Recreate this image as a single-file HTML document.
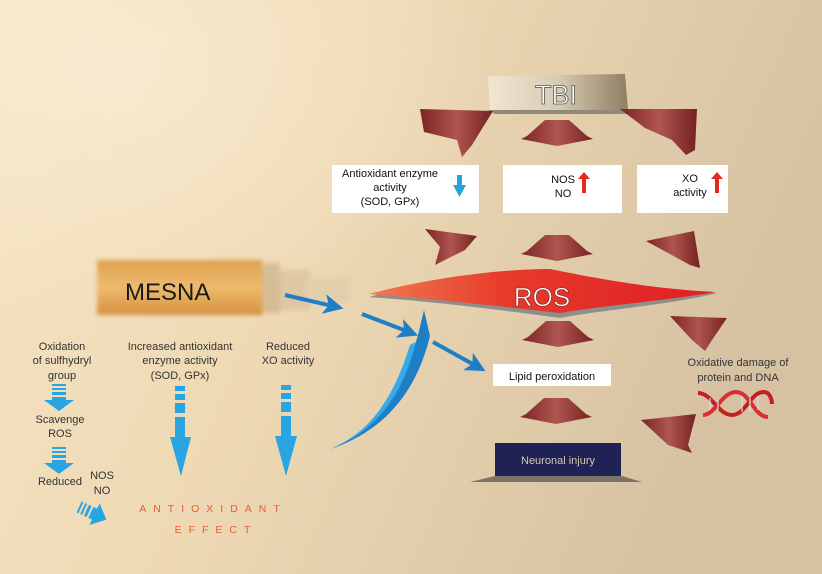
<!DOCTYPE html>
<html><head><meta charset="utf-8"><style>
html,body{margin:0;padding:0;width:822px;height:574px;overflow:hidden;background:#f3e2c2}
svg{display:block}
text{font-family:"Liberation Sans",sans-serif}
</style></head><body>
<svg width="822" height="574" viewBox="0 0 822 574" xmlns="http://www.w3.org/2000/svg">
<defs>
<linearGradient id="bg" x1="0" y1="0" x2="1" y2="0.3">
<stop offset="0" stop-color="#f6e4c4"/><stop offset="0.45" stop-color="#eed9b4"/><stop offset="1" stop-color="#d6c2a2"/>
</linearGradient>
<radialGradient id="glow" cx="0.15" cy="0.12" r="0.45"><stop offset="0" stop-color="#fcf0da" stop-opacity="0.6"/><stop offset="1" stop-color="#fcf0da" stop-opacity="0"/></radialGradient>
<linearGradient id="mar" x1="0" y1="0" x2="1" y2="0"><stop offset="0" stop-color="#7a2424"/><stop offset="0.5" stop-color="#b05550"/><stop offset="1" stop-color="#742222"/></linearGradient>
<linearGradient id="tbi" x1="0" y1="0" x2="1" y2="0"><stop offset="0" stop-color="#f2e6d2"/><stop offset="0.5" stop-color="#d8cbb3"/><stop offset="1" stop-color="#8f7e62"/></linearGradient>
<linearGradient id="ros" x1="0" y1="0" x2="1" y2="0"><stop offset="0" stop-color="#f07a50"/><stop offset="0.4" stop-color="#e63a2a"/><stop offset="1" stop-color="#e01e25"/></linearGradient>
<linearGradient id="mes" x1="0" y1="0" x2="0" y2="1"><stop offset="0" stop-color="#e0a050"/><stop offset="0.5" stop-color="#edbb6e"/><stop offset="1" stop-color="#d4913e"/></linearGradient>
<filter id="bl"><feGaussianBlur stdDeviation="2"/></filter>
<g id="tent"><polygon points="-12,0 12,0 30,16 36,19 0,26 -36,19 -30,16" fill="url(#mar)"/></g>
<g id="bArr" fill="#1f7fc6"><polygon points="0,-2 44,-2 40,-10 60,0 40,10 44,2 0,2"/></g>
</defs>
<rect width="822" height="574" fill="url(#bg)"/>
<rect width="822" height="574" fill="url(#glow)"/>

<polygon points="488,76 625,74 628,110 490,110" fill="url(#tbi)"/>
<polygon points="488,110 628,110 628,114 495,114" fill="#8f8a80"/>
<text x="556" y="104" font-size="27" fill="#fff" stroke="#555" stroke-width="0.8" text-anchor="middle">TBI</text>

<polygon points="420,109 493,111 472,145 462,157 457,140 424,132" fill="url(#mar)"/>
<use href="#tent" x="557" y="120"/>
<polygon points="620,109 697,109 695,150 686,155 672,140 645,128" fill="url(#mar)"/>

<rect x="332" y="165" width="147" height="48" fill="#fff"/>
<text font-size="11" fill="#111" text-anchor="middle"><tspan x="390" y="177">Antioxidant enzyme</tspan><tspan x="390" y="191">activity</tspan><tspan x="390" y="205">(SOD, GPx)</tspan></text>
<polygon points="457,175 462,175 462,185 466,185 459.5,197 453,185 457,185" fill="#27a3df"/>
<rect x="503" y="165" width="119" height="48" fill="#fff"/>
<text font-size="11" fill="#111" text-anchor="middle"><tspan x="563" y="183">NOS</tspan><tspan x="563" y="197">NO</tspan></text>
<polygon points="578,179 584,172 590,179 586,179 586,193 582,193 582,179" fill="#e42a1e"/>
<rect x="637" y="165" width="91" height="48" fill="#fff"/>
<text font-size="11" fill="#111" text-anchor="middle"><tspan x="690" y="182">XO</tspan><tspan x="690" y="196">activity</tspan></text>
<polygon points="711,179 717,172 723,179 719,179 719,193 715,193 715,179" fill="#e42a1e"/>

<polygon points="425,229 477,236 465,250 435,265 440,247" fill="url(#mar)"/>
<use href="#tent" x="557" y="235"/>
<polygon points="646,241 694,231 700,268 690,265" fill="url(#mar)"/>

<path d="M369,297 C430,280 500,271 550,271 C590,280 650,292 717,293 C670,305 600,310 560,318 C500,310 440,302 369,297 Z" fill="#8e8e8e"/>
<path d="M369,294 C430,278 500,269 550,269 C590,277 650,289 716,292 C670,300 600,306 560,313 C500,306 440,300 369,294 Z" fill="url(#ros)"/>
<text x="542" y="306" font-size="26" fill="#fff" stroke="#7a2020" stroke-width="0.6" text-anchor="middle">ROS</text>

<use href="#tent" x="558" y="321"/>
<polygon points="670,316 727,318 712,340 705,351 692,340" fill="url(#mar)"/>
<rect x="493" y="364" width="118" height="22" fill="#fff"/>
<text x="552" y="380" font-size="11" fill="#111" text-anchor="middle">Lipid peroxidation</text>
<use href="#tent" x="556" y="398"/>
<polygon points="641,420 696,414 688,445 692,453 668,445" fill="url(#mar)"/>
<rect x="495" y="443" width="126" height="34" fill="#1e2255"/>
<polygon points="470,482 642,482 622,476 495,476" fill="#7b7466"/>
<text x="558" y="464" font-size="11" fill="#d8c8b0" text-anchor="middle">Neuronal injury</text>
<text font-size="11" fill="#333" text-anchor="middle"><tspan x="738" y="366">Oxidative damage of</tspan><tspan x="738" y="381">protein and DNA</tspan></text>
<g stroke-width="4" fill="none">
<path d="M698,393 C712,393 718,415 732,415 C746,415 750,392 764,392 C770,392 772,400 772,404" stroke="#c41e1e"/>
<path d="M703,415 C715,415 722,392 736,392 C750,392 754,417 768,417" stroke="#d83030"/>
</g>
<g stroke="#ddd" stroke-width="1.2"><line x1="710" y1="398" x2="710" y2="410"/><line x1="718" y1="400" x2="718" y2="410"/><line x1="742" y1="396" x2="742" y2="412"/><line x1="750" y1="398" x2="750" y2="412"/><line x1="758" y1="396" x2="758" y2="410"/></g>

<g filter="url(#bl)" opacity="0.6"><rect x="255" y="263" width="25" height="50" fill="#c8aa80"/><rect x="280" y="270" width="30" height="40" fill="#d4bc98"/><rect x="305" y="278" width="45" height="25" fill="#dccaa8"/></g>
<rect x="97" y="260" width="165" height="55" fill="url(#mes)" filter="url(#bl)"/>
<text x="125" y="300" font-size="24" fill="#1a1a1a">MESNA</text>

<use href="#bArr" transform="translate(285,295) rotate(13)"/>
<use href="#bArr" transform="translate(362,314) rotate(21)"/>
<use href="#bArr" transform="translate(433,342) rotate(29)"/>
<path d="M328,450 C380,430 405,380 418,335 L424,310 L430,336 C418,385 390,430 328,450 Z" fill="#1f7fc6"/>
<path d="M332,448 C375,430 396,390 410,345 L416,342 C404,390 380,430 332,448 Z" fill="#36a9e8"/>

<g font-size="11" fill="#333" text-anchor="middle">
<text x="62" y="350">Oxidation</text><text x="62" y="364">of sulfhydryl</text><text x="62" y="379">group</text>
<text x="60" y="423">Scavenge</text><text x="60" y="437">ROS</text>
<text x="60" y="485">Reduced</text>
<text x="102" y="479">NOS</text><text x="102" y="494">NO</text>
<text x="180" y="350">Increased antioxidant</text><text x="180" y="364">enzyme activity</text><text x="180" y="379">(SOD, GPx)</text>
<text x="288" y="350">Reduced</text><text x="288" y="364">XO activity</text>
</g>
<g fill="#29a5e3">
<rect x="52" y="384" width="14" height="2"/><rect x="52" y="388" width="14" height="2"/><rect x="52" y="392" width="14" height="3"/><rect x="52" y="397" width="14" height="5"/>
<polygon points="44,400 74,400 59,411"/>
<rect x="52" y="447" width="14" height="2"/><rect x="52" y="451" width="14" height="2"/><rect x="52" y="455" width="14" height="3"/><rect x="52" y="460" width="14" height="5"/>
<polygon points="44,463 74,463 59,474"/>
<g transform="translate(90,512) rotate(25)"><rect x="-12" y="-6" width="2" height="12"/><rect x="-8" y="-6" width="2" height="12"/><rect x="-4" y="-6" width="3" height="12"/><rect x="1" y="-6" width="5" height="12"/><polygon points="5,-12 18,0 5,12"/></g>
<rect x="175" y="386" width="10" height="5"/><rect x="175" y="394" width="10" height="6"/><rect x="175" y="403" width="10" height="10"/><rect x="175" y="417" width="10" height="22"/>
<polygon points="170,437 191,437 181,476"/>
<rect x="281" y="385" width="10" height="5"/><rect x="281" y="393" width="10" height="6"/><rect x="281" y="402" width="10" height="10"/><rect x="281" y="416" width="10" height="22"/>
<polygon points="275,436 297,436 286,476"/>
</g>
<text x="213" y="512" font-size="10.5" fill="#ee5a2e" text-anchor="middle" letter-spacing="7">ANTIOXIDANT</text>
<text x="216" y="533" font-size="10.5" fill="#ee5a2e" text-anchor="middle" letter-spacing="7">EFFECT</text>
</svg>
</body></html>
